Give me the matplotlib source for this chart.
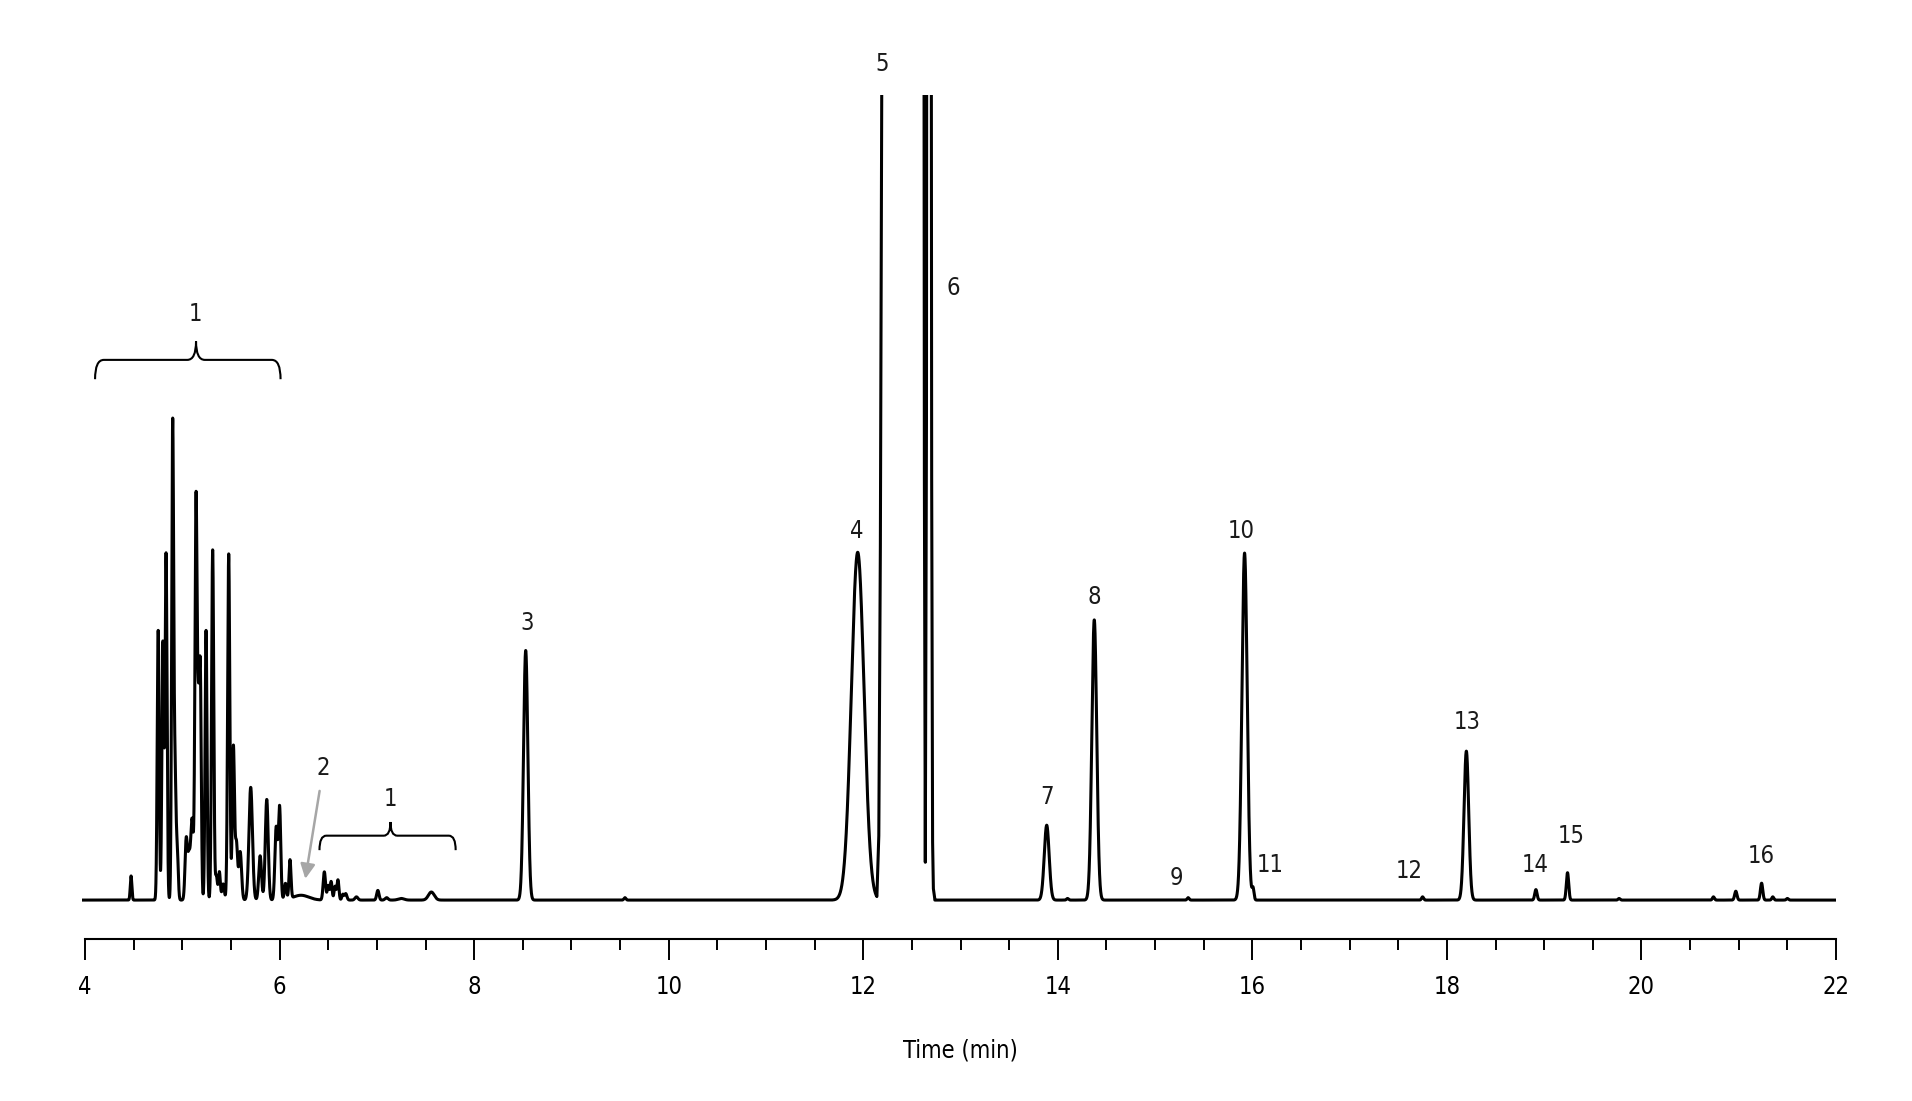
import numpy as np
import matplotlib
matplotlib.use("Agg")
import matplotlib.pyplot as plt
from matplotlib.path import Path
from matplotlib.patches import PathPatch
from matplotlib.ticker import MultipleLocator

# peak table: retention time (min), height, width (sigma, min)
peak_t = [4.473, 4.752, 4.800, 4.833, 4.901, 4.925, 4.948, 5.040, 5.068, 5.100,
          5.141, 5.165, 5.185, 5.244, 5.312, 5.350, 5.381, 5.420, 5.477, 5.525,
          5.556, 5.595, 5.703, 5.800, 5.868, 5.965, 6.000, 6.060, 6.107, 6.220,
          6.460, 6.500, 6.530, 6.570, 6.600, 6.650, 6.680, 6.790, 7.010, 7.100,
          7.250, 7.560,
          8.530, 9.550, 11.943,
          13.886, 14.100, 14.375, 15.340, 15.920, 16.007, 17.750, 18.200, 18.915,
          19.240, 19.770, 20.740, 20.970, 21.235, 21.350, 21.500]
peak_h = [3.0, 33.5, 32, 43, 59, 15, 6, 7.5, 5, 10,
          49.5, 19, 27, 33.5, 43.5, 3, 3.5, 2, 43, 19,
          7, 6, 14, 5.5, 12.5, 9, 11.5, 2, 4.8, 0.6,
          3.5, 1.8, 2.3, 1.7, 2.5, 0.7, 0.8, 0.4, 1.2, 0.3,
          0.2, 1.0,
          31, 0.3, 43.2,
          9.3, 0.2, 34.8, 0.3, 43.1, 1.4, 0.4, 18.5, 1.3,
          3.4, 0.2, 0.4, 1.1, 2.1, 0.4, 0.2]
peak_w = [0.008, 0.010, 0.010, 0.010, 0.010, 0.010, 0.010, 0.012, 0.012, 0.014,
          0.011, 0.010, 0.010, 0.010, 0.011, 0.010, 0.010, 0.012, 0.011, 0.011,
          0.012, 0.014, 0.018, 0.014, 0.015, 0.013, 0.012, 0.011, 0.010, 0.080,
          0.012, 0.010, 0.010, 0.010, 0.010, 0.010, 0.012, 0.015, 0.012, 0.015,
          0.030, 0.030,
          0.022, 0.010, 0.065,
          0.025, 0.010, 0.025, 0.010, 0.027, 0.010, 0.010, 0.024, 0.012,
          0.012, 0.010, 0.010, 0.012, 0.012, 0.010, 0.010]

# overloaded peaks 5 and 6 (signal off scale between 12.2 and 12.7 min)
over_t = [12.140, 12.160, 12.175, 12.190, 12.205, 12.615, 12.627, 12.638, 12.650,
          12.662, 12.690, 12.702, 12.712, 12.720, 12.735]
over_h = [0.3, 8, 40, 100, 300, 300, 60, 4.7, 60, 300, 300, 60, 8, 1.5, 0.2]

# peak labels
lab_txt = ["1", "1", "2", "3", "4", "5", "6", "7", "8", "9", "10", "11",
           "12", "13", "14", "15", "16"]
lab_t = [5.14, 7.14, 6.45, 8.54, 11.93, 12.19, 12.93, 13.886, 14.38, 15.22,
         15.89, 16.18, 17.61, 18.21, 18.91, 19.28, 21.23]
lab_h = [72.8, 12.5, 16.4, 34.4, 45.9, 103.9, 76.0, 12.8, 37.6, 2.8,
         45.8, 4.3, 3.6, 22.1, 4.3, 7.9, 5.5]

t = np.arange(3.97, 22.0005, 0.0005)
y = np.zeros_like(t)
for c, h, s in zip(peak_t, peak_h, peak_w):
    y += h * np.exp(-0.5 * ((t - c) / s) ** 2)
m = (t >= over_t[0]) & (t <= over_t[-1])
y[m] = np.maximum(y[m], np.interp(t[m], over_t, over_h))

font = dict(family=["Liberation Sans Narrow", "DejaVu Sans"], fontstretch="condensed")

fig = plt.figure(figsize=(19.12, 11.01), dpi=100)
ax = fig.add_axes([0.04295, 0.1471, 0.9173, 0.7666])
ax.plot(t, y, color="black", lw=2.2, solid_joinstyle="round")
ax.set_xlim(3.97, 22.0)
ax.set_ylim(-4.84, 100)

for s in ["left", "right", "top"]:
    ax.spines[s].set_visible(False)
ax.spines["bottom"].set_bounds(4, 22)
ax.spines["bottom"].set_linewidth(1.5)
ax.set_yticks([])
ax.xaxis.set_major_locator(MultipleLocator(2))
ax.xaxis.set_minor_locator(MultipleLocator(0.5))
ax.tick_params(axis="x", which="major", length=15, width=1.4, pad=11, labelsize=17)
ax.tick_params(axis="x", which="minor", length=8, width=1.4)
for lb in ax.get_xticklabels():
    lb.set_family(font["family"])
    lb.set_stretch("condensed")

ax.set_xlabel("Time (min)", fontsize=17, **font)
ax.xaxis.label.set_va("center")
ax.xaxis.set_label_coords(0.5008, -0.1315)


def brace(x0, x1, xm, y_end, y_flat, y_tip, r):
    verts = [(x0, y_end), (x0, y_flat), (x0 + r, y_flat), (xm - r, y_flat),
             (xm, y_flat), (xm, y_tip), (xm, y_flat), (xm + r, y_flat),
             (x1 - r, y_flat), (x1, y_flat), (x1, y_end)]
    codes = [Path.MOVETO, Path.CURVE3, Path.CURVE3, Path.LINETO, Path.CURVE3,
             Path.CURVE3, Path.CURVE3, Path.CURVE3, Path.LINETO, Path.CURVE3, Path.CURVE3]
    ax.add_patch(PathPatch(Path(verts, codes), fill=False, lw=1.5, color="black",
                           clip_on=False))


brace(4.103, 6.01, 5.141, 64.7, 67.1, 69.4, 0.09)
brace(6.41, 7.81, 7.14, 6.2, 8.0, 9.7, 0.07)

ax.annotate("", xy=(6.26, 2.3), xytext=(6.416, 13.9),
            arrowprops=dict(arrowstyle="-|>", color="#a6a6a6", lw=1.8, mutation_scale=22))

for s, x, h in zip(lab_txt, lab_t, lab_h):
    ax.text(x, h, s, ha="center", va="center", fontsize=17, color="#1a1a1a", **font)

fig.savefig("out.png", dpi=100)
